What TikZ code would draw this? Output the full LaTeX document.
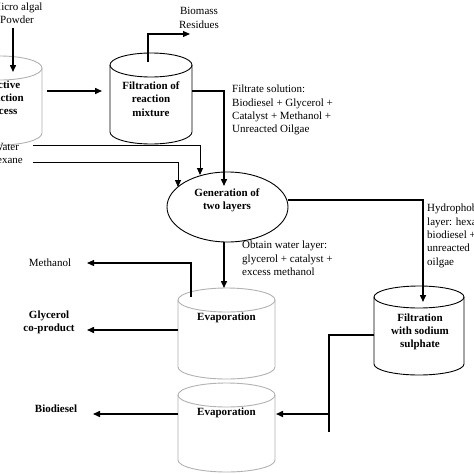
\documentclass[tikz,border=0pt]{standalone}
\usepackage{fontspec}
\setmainfont{Liberation Serif}
\usetikzlibrary{arrows.meta,shapes.geometric}
% name, style, cx, ytop, ybot, rx, ry
\newcommand\mkcyl[7]{%
  \node[inner sep=0pt, minimum width={2*#6}, minimum height={#5-#4}] (#1) at (#3,{(#4+#5)/2}) {};
  \draw[#2] (#3-#6,#4) -- (#3-#6,#5) arc[start angle=180, end angle=0, x radius=#6, y radius=#7] -- (#3+#6,#4);
  \draw[#2] (#3,#4) ellipse[x radius=#6, y radius=#7];
}
\begin{document}
\begin{tikzpicture}[x=1pt,y=-1pt,
  txt/.style={font=\fontsize{11}{13.3}\selectfont, align=center, inner sep=0pt},
  btxt/.style={txt, font=\fontsize{11}{13.3}\selectfont\bfseries},
  ltxt/.style={txt, align=left, anchor=north west},
  thk/.style={line width=1.5pt, -{Triangle[length=7pt,width=6pt]}},
  thn/.style={line width=0.9pt, -{Triangle[length=7pt,width=6pt]}},
  plain/.style={line width=1.5pt},
  bcyl/.style={line width=0.9pt, black},
  gcyl/.style={line width=0.9pt, black!30}]
\useasboundingbox (0,0) rectangle (474,474);
\clip (0,0) rectangle (474,474);
\fill[white] (0,0) rectangle (474,474);

% cylinders
\mkcyl{cA}{gcyl}{0}{68}{133}{42}{12}
\mkcyl{cB}{bcyl}{151}{65}{132}{41}{12}
\mkcyl{cE}{gcyl}{226.5}{300}{367}{48.5}{12}
\mkcyl{cF}{gcyl}{226.5}{395}{460}{48.5}{12}
\mkcyl{cS}{bcyl}{419}{297}{364}{45}{11}
\node[draw, line width=0.9pt, ellipse, minimum width=121pt, minimum height=70pt, inner sep=0pt] (gen) at (227.5,207) {};

% texts
\node[btxt] (tA) at (0,99) {Reactive\\extraction\\process};
\node[btxt] (tB) at (151,99) {Filtration of\\reaction\\mixture};
\node[btxt] (tG) at (227,200) {Generation of\\two layers};
\node[btxt] (tE) at (226.5,318) {Evaporation};
\node[btxt] (tF) at (226.5,413) {Evaporation};
\node[btxt] (tS) at (420,332) {Filtration\\with sodium\\sulphate};
\node[txt] (tM) at (17,13) {Micro algal\\Powder};
\node[txt] (tR) at (199,18) {Biomass\\Residues};
\node[ltxt] (tFs) at (232,85) {Filtrate solution:\\Biodiesel + Glycerol +\\Catalyst + Methanol +\\Unreacted Oilgae};
\node[txt] (tW) at (6,153.5) {Water\\Hexane};
\node[ltxt] (tH) at (427,204) {Hydrophobic\\layer: hexane +\\biodiesel +\\unreacted\\oilgae};
\node[ltxt] (tO) at (242,241) {Obtain water layer:\\glycerol + catalyst +\\excess methanol};
\node[txt] (tMe) at (50,263) {Methanol};
\node[btxt] (tGl) at (49,322) {Glycerol\\co-product};
\node[btxt] (tBd) at (56,409) {Biodiesel};

% connector points
\coordinate (p1) at (13,28);   \coordinate (p2) at (13,72);
\coordinate (p3) at (47,91);   \coordinate (p4) at (102,91);
\coordinate (p5) at (148,62);  \coordinate (p6) at (148,34); \coordinate (p7) at (190,34);
\coordinate (p8) at (192,91);  \coordinate (p9) at (224,91); \coordinate (p10) at (224,186);
\coordinate (w1) at (33,145);  \coordinate (w2) at (200,145); \coordinate (w3) at (200,175);
\coordinate (h1) at (33,162);  \coordinate (h2) at (178,162); \coordinate (h3) at (178,187);
\coordinate (r1) at (288,200); \coordinate (r2) at (423,200); \coordinate (r3) at (423,302);
\coordinate (d1) at (224,242); \coordinate (d2) at (224,288);
\coordinate (m1) at (191,297); \coordinate (m2) at (191,263); \coordinate (m3) at (87,263);
\coordinate (g1) at (178,330); \coordinate (g2) at (87,330);
\coordinate (b1) at (178,414); \coordinate (b2) at (93,414);
\coordinate (s1) at (374,335); \coordinate (s2) at (329,335); \coordinate (s3) at (329,432);
\coordinate (s4) at (329,414); \coordinate (s5) at (276,414);

% connectors
\draw[thk] (p1) -- (p2);
\draw[thk] (p3) -- (p4);
\draw[thn, line width=1.1pt] (p5) -- (p6) -- (p7);
\draw[thk] (p8) -- (p9) -- (p10);
\draw[thn] (w1) -- (w2) -- (w3);
\draw[thn] (h1) -- (h2) -- (h3);
\draw[thk] (r1) -- (r2) -- (r3);
\draw[thk] (d1) -- (d2);
\draw[thn, line width=1.1pt] (m1) -- (m2) -- (m3);
\draw[thk] (g1) -- (g2);
\draw[thk] (b1) -- (b2);
\draw[plain] (s1) -- (s2) -- (s3);
\draw[thk] (s4) -- (s5);
\end{tikzpicture}
\end{document}
